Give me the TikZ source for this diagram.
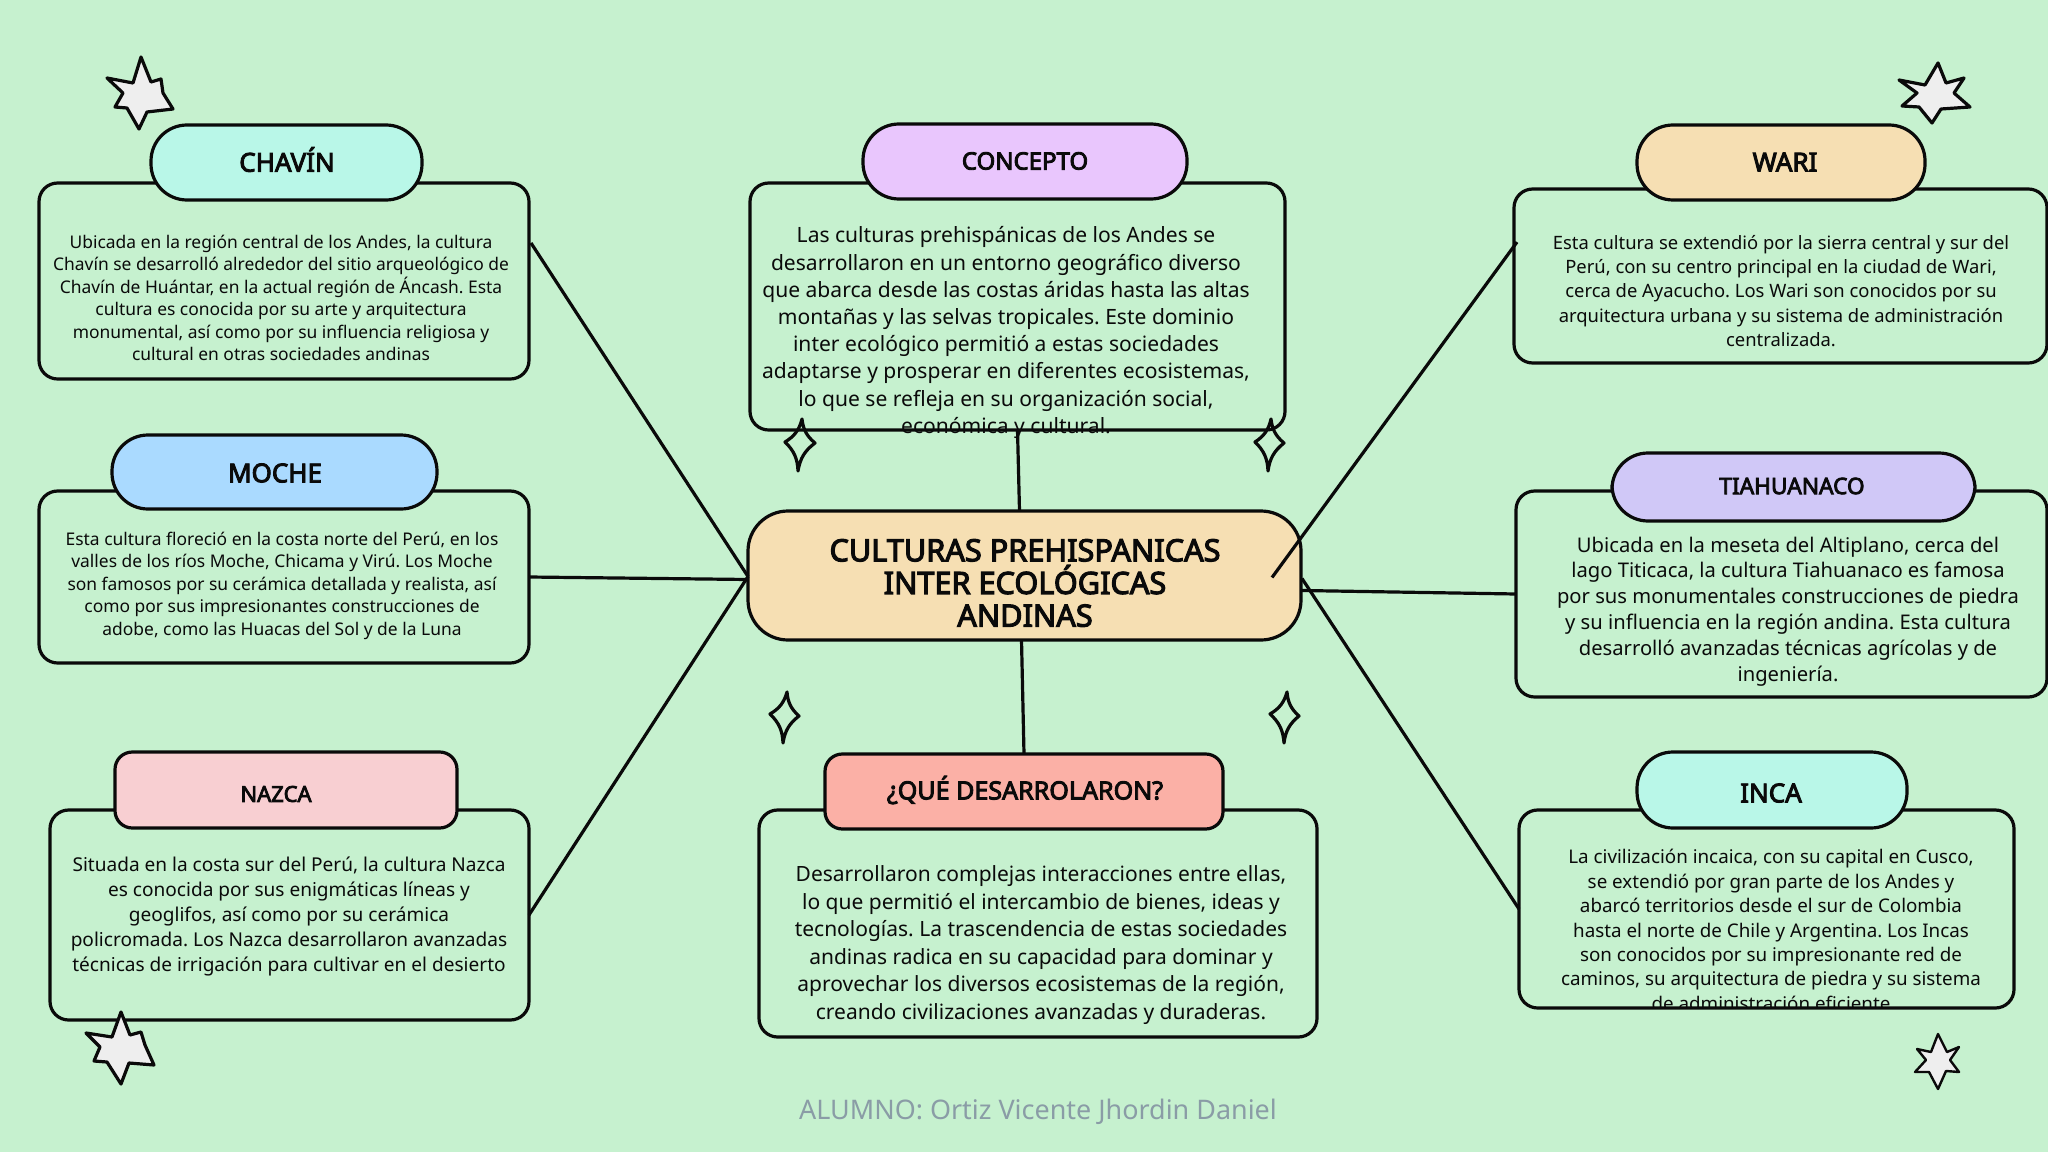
\documentclass[tikz,border=0pt]{standalone}
\usepackage{fontspec}
\setmainfont{Noto Sans}[AutoFakeBold=3.6]
\usetikzlibrary{calc}
\definecolor{bg}{HTML}{C6F1CF}
\definecolor{ink}{HTML}{0A0A0A}
\definecolor{aqua}{HTML}{B9F7E8}
\definecolor{lila}{HTML}{E9C6FD}
\definecolor{sand}{HTML}{F6DFB3}
\definecolor{viol}{HTML}{D0C8F7}
\definecolor{sky}{HTML}{AADAFF}
\definecolor{rosa}{HTML}{F8CFD2}
\definecolor{salmon}{HTML}{FBB0A6}
\definecolor{foot}{HTML}{8A9CA6}
\definecolor{starfill}{HTML}{EEEEEE}
\newcommand{\fsz}[2]{\fontsize{#1}{#2}\selectfont}
\tikzset{
  x=.75pt,y=-.75pt,
  box/.style={draw=ink,line width=2.4pt,inner sep=0pt,outer sep=0pt,rectangle},
  bodybox/.style={box,rounded corners=14pt},
  pill/.style={box,rounded corners=27pt},
  softpill/.style={box,rounded corners=13pt},
  conn/.style={draw=ink,line width=2.4pt},
  txt/.style 2 args={text=ink,align=center,inner sep=0pt,font=\frenchspacing\fsz{#1}{#2}},
  head/.style 2 args={text=ink,align=center,inner sep=0pt,font=\fsz{#1}{#2}\bfseries},
  starshape/.style={draw=ink,line width=2.4pt,fill=starfill,line join=round},
  spark/.style={draw=ink,line width=2.4pt,line join=round},
}
\newcommand{\bx}[6]{%
  \pgfmathsetmacro\bw{(#4-#2)*.75}\pgfmathsetmacro\bh{(#5-#3)*.75}%
  \node[#6,minimum width=\bw pt,minimum height=\bh pt] (#1) at ({(#2+#4)/2},{(#3+#5)/2}) {};}
\newcommand{\sparkle}[4]{\draw[spark] #1 to[bend right=22] #2 to[bend right=22] #3 to[bend right=22] #4 to[bend right=22] cycle;}
\begin{document}
\begin{tikzpicture}
\path[use as bounding box,fill=bg] (0,0) rectangle (2048,1152);

% bodies
\bx{chavin}{39}{183}{529}{379}{bodybox}
\bx{moche}{39}{491}{529}{663}{bodybox}
\bx{nazca}{50}{810}{529}{1020}{bodybox}
\bx{concepto}{750}{183}{1285}{430}{bodybox}
\bx{que}{759}{810}{1317}{1037}{bodybox}
\bx{wari}{1514}{189}{2047}{363}{bodybox}
\bx{tia}{1516}{491}{2047}{697}{bodybox}
\bx{inca}{1519}{810}{2014}{1008}{bodybox}

% pills
\bx{chavinH}{151}{125}{422}{200}{pill,fill=aqua}
\bx{mocheH}{112}{435}{437}{509}{pill,fill=sky}
\bx{nazcaH}{115}{752}{457}{828}{softpill,fill=rosa}
\bx{conceptoH}{863}{124}{1187}{199}{pill,fill=lila}
\bx{queH}{825}{754}{1223}{829}{softpill,fill=salmon}
\bx{wariH}{1637}{125}{1925}{200}{pill,fill=sand}
\bx{tiaH}{1612}{453}{1975}{521}{pill,fill=viol}
\bx{incaH}{1637}{752}{1907}{828}{pill,fill=aqua}
\bx{hub}{748}{511}{1301}{640}{box,rounded corners=30pt,fill=sand}

% connectors
\draw[conn] ($(chavin.north east)!.306!(chavin.south east)+(2,0)$) -- ($(hub.west)+(0,1)$);
\draw[conn] (moche.east) -- ($(hub.west)+(0,4)$);
\draw[conn] (nazca.east) -- ($(hub.west)+(0,1)$);
\draw[conn] (concepto.south) -- ($(hub.north)+(-5,0)$);
\draw[conn] ($(hub.south)+(-3,0)$) -- (queH.north);
\draw[conn] ($(wari.north west)!.305!(wari.south west)+(3,0)$) -- ($(hub.east)+(-29,2)$);
\draw[conn] ($(hub.east)+(1,15)$) -- (tia.west);
\draw[conn] ($(hub.east)+(1,3)$) -- (inca.west);

% stars
\draw[starshape] (141,57)--(151,82)--(161,79)--(163,93)--(173,109)--(147,112)--(139,129)--(127,108)--(115,107)--(123,93)--(107,78)--(133,83)--cycle;
\draw[starshape] (1938,63)--(1946,83)--(1964,78)--(1954,93)--(1970,107)--(1941,109)--(1932,123)--(1919,107)--(1902,106)--(1917,93)--(1899,80)--(1925,85)--cycle;
\draw[starshape] (121,1012)--(130,1035)--(141,1032)--(145,1045)--(154,1065)--(129,1063)--(121,1084)--(107,1062)--(94,1061)--(100,1047)--(86,1033)--(112,1037)--cycle;
\draw[starshape,line width=1.8pt] (1938,1034)--(1947,1052)--(1959,1047)--(1950,1060)--(1959,1072)--(1946,1071)--(1938,1089)--(1929,1072)--(1915,1072)--(1926,1060)--(1917,1049)--(1931,1052)--cycle;

% sparkles
\sparkle{(802,419)}{(815,443)}{(798,471)}{(785,442)}
\sparkle{(1271,419)}{(1284,443)}{(1268,471)}{(1255,442)}
\sparkle{(787,692)}{(799,716)}{(783,743)}{(770,714)}
\sparkle{(1287,692)}{(1299,716)}{(1284,743)}{(1270,714)}

% headings
\node[head={19.5}{24}] (tChavin) at (287,159.5) {CHAVÍN};
\node[head={19.5}{24}] (tMoche) at (275,473) {MOCHE};
\node[head={16.5}{20}] (tNazca) at (276,794) {NAZCA};
\node[head={18}{22}] (tConcepto) at (1025,161) {CONCEPTO};
\node[head={18.8}{22}] (tQue) at (1025,790) {¿QUÉ DESARROLARON?};
\node[head={19.5}{24}] (tWari) at (1785,162) {WARI};
\node[head={17}{21}] (tTia) at (1792,486) {TIAHUANACO};
\node[head={19.5}{24}] (tInca) at (1771,793) {INCA};
\node[head={23}{24.5}] (tHub) at (1025,583) {CULTURAS PREHISPANICAS\\INTER ECOLÓGICAS\\ANDINAS};

% body texts
\node[txt={13.07}{16.9}] (xChavin) at (281,298) {Ubicada en la región central de los Andes, la cultura\\Chavín se desarrolló alrededor del sitio arqueológico de\\Chavín de Huántar, en la actual región de Áncash. Esta\\cultura es conocida por su arte y arquitectura\\monumental, así como por su influencia religiosa y\\cultural en otras sociedades andinas};
\node[txt={13.07}{16.9}] (xMoche) at (282,585.5) {Esta cultura floreció en la costa norte del Perú, en los\\valles de los ríos Moche, Chicama y Virú. Los Moche\\son famosos por su cerámica detallada y realista, así\\como por sus impresionantes construcciones de\\adobe, como las Huacas del Sol y de la Luna};
\node[txt={14.3}{18.6}] (xNazca) at (289,916.5) {Situada en la costa sur del Perú, la cultura Nazca\\es conocida por sus enigmáticas líneas y\\geoglifos, así como por su cerámica\\policromada. Los Nazca desarrollaron avanzadas\\técnicas de irrigación para cultivar en el desierto};
\node[txt={15.8}{20.4}] (xConcepto) at (1006,332.5) {Las culturas prehispánicas de los Andes se\\desarrollaron en un entorno geográfico diverso\\que abarca desde las costas áridas hasta las altas\\montañas y las selvas tropicales. Este dominio\\inter ecológico permitió a estas sociedades\\adaptarse y prosperar en diferentes ecosistemas,\\lo que se refleja en su organización social,\\económica y cultural.};
\node[txt={15.75}{20.6}] (xQue) at (1041,945) {Desarrollaron complejas interacciones entre ellas,\\lo que permitió el intercambio de bienes, ideas y\\tecnologías. La trascendencia de estas sociedades\\andinas radica en su capacidad para dominar y\\aprovechar los diversos ecosistemas de la región,\\creando civilizaciones avanzadas y duraderas.};
\node[txt={13.8}{18.1}] (xWari) at (1781,291) {Esta cultura se extendió por la sierra central y sur del\\Perú, con su centro principal en la ciudad de Wari,\\cerca de Ayacucho. Los Wari son conocidos por su\\arquitectura urbana y su sistema de administración\\centralizada.};
\node[txt={15.15}{19.4}] (xTia) at (1788,611.5) {Ubicada en la meseta del Altiplano, cerca del\\lago Titicaca, la cultura Tiahuanaco es famosa\\por sus monumentales construcciones de piedra\\y su influencia en la región andina. Esta cultura\\desarrolló avanzadas técnicas agrícolas y de\\ingeniería.};
\begin{scope}
\clip (1519,810) rectangle (2014,1006);
\node[txt={14.1}{18.3}] (xInca) at (1771,930) {La civilización incaica, con su capital en Cusco,\\se extendió por gran parte de los Andes y\\abarcó territorios desde el sur de Colombia\\hasta el norte de Chile y Argentina. Los Incas\\son conocidos por su impresionante red de\\caminos, su arquitectura de piedra y su sistema\\de administración eficiente};
\end{scope}

\node[text=foot,inner sep=0pt,font=\fsz{20.2}{24}] (footer) at (1038,1111.5) {ALUMNO: Ortiz Vicente Jhordin Daniel};
\end{tikzpicture}
\end{document}
